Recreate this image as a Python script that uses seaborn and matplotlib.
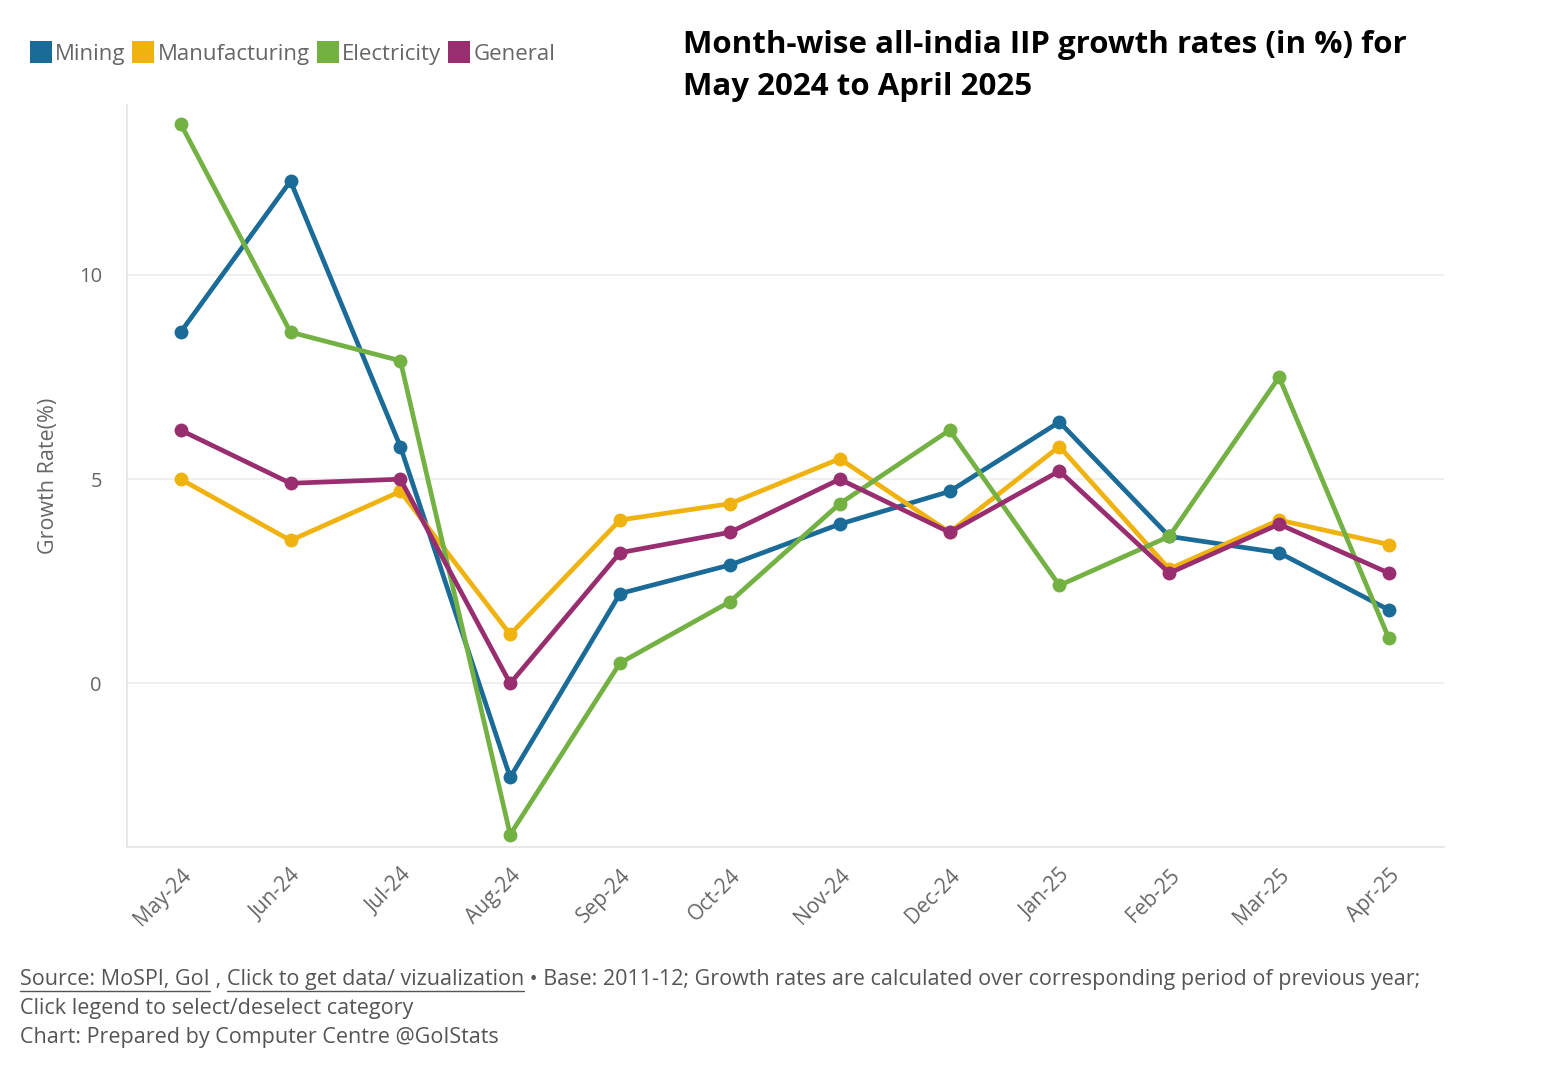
import pandas as pd
import seaborn as sns
import matplotlib.pyplot as plt
from matplotlib.lines import Line2D

months = ["May-24", "Jun-24", "Jul-24", "Aug-24", "Sep-24", "Oct-24",
          "Nov-24", "Dec-24", "Jan-25", "Feb-25", "Mar-25", "Apr-25"]
mining = [8.6, 12.3, 5.8, -2.3, 2.2, 2.9, 3.9, 4.7, 6.4, 3.6, 3.2, 1.8]
manufacturing = [5.0, 3.5, 4.7, 1.2, 4.0, 4.4, 5.5, 3.7, 5.8, 2.8, 4.0, 3.4]
electricity = [13.7, 8.6, 7.9, -3.7, 0.5, 2.0, 4.4, 6.2, 2.4, 3.6, 7.5, 1.1]
general = [6.2, 4.9, 5.0, 0.0, 3.2, 3.7, 5.0, 3.7, 5.2, 2.7, 3.9, 2.7]

series = ["Mining", "Manufacturing", "Electricity", "General"]
colors = {"Mining": "#1b6b98", "Manufacturing": "#f0b20f",
          "Electricity": "#74b143", "General": "#982e6f"}

df = pd.DataFrame({
    "month": months * 4,
    "rate": mining + manufacturing + electricity + general,
    "sector": sum([[s] * len(months) for s in series], []),
})
df["pos"] = list(range(len(months))) * 4

sns.set_theme(style="white")
plt.rcParams["font.family"] = ["Open Sans", "DejaVu Sans"]

fig = plt.figure(figsize=(15.66, 10.76), dpi=100)
ax = fig.add_axes([0.081, 0.213, 0.841, 0.689])

sns.lineplot(data=df, x="pos", y="rate", hue="sector", palette=colors,
             hue_order=series, marker="o", markersize=10, markeredgewidth=0,
             linewidth=3.4, legend=False, ax=ax)

ax.set_xlim(-0.49, 11.5)
ax.set_ylim(-4.0, 14.15)
ax.set_xticks(range(len(months)))
ax.set_xticklabels(months, rotation=45, ha="right", rotation_mode="anchor",
                   fontsize=15, color="#666666")
ax.set_yticks([0, 5, 10])
ax.set_yticklabels(["0", "5", "10"], fontsize=14.5, color="#666666")
ax.tick_params(axis="x", length=7, color="#e6e6e6", pad=6)
ax.tick_params(axis="y", length=0, pad=18)
ax.yaxis.grid(True, color="#eeeeee", linewidth=1.3)
ax.set_axisbelow(True)
for side in ["top", "right"]:
    ax.spines[side].set_visible(False)
for side in ["left", "bottom"]:
    ax.spines[side].set_color("#e6e6e6")
    ax.spines[side].set_linewidth(1.3)
ax.set_xlabel("")
ax.set_ylabel("Growth Rate(%)", fontsize=15.5, color="#666666", labelpad=14)

handles = [Line2D([0], [0], marker="s", linestyle="", markersize=16,
                  markerfacecolor=colors[s], markeredgewidth=0) for s in series]
leg = fig.legend(handles, series, loc="upper left", bbox_to_anchor=(0.006, 0.978),
                 ncol=4, frameon=False, fontsize=16, handletextpad=0.15,
                 columnspacing=0.3, handlelength=1.0)
for t in leg.get_texts():
    t.set_color("#666666")

fig.text(0.436, 0.972, "Month-wise all-india IIP growth rates (in %) for\nMay 2024 to April 2025",
         fontsize=22.5, fontweight="bold", color="black", ha="left", va="top",
         linespacing=1.5)

foot = "#555555"
fs = 15.5
y1 = 0.085
t1 = fig.text(0.013, y1, "Source: MoSPI, GoI", fontsize=fs, color=foot)
fig.canvas.draw()
r = fig.canvas.get_renderer()
inv = fig.transFigure.inverted()


def nxt(prev, s):
    bb = prev.get_window_extent(r)
    x = inv.transform((bb.x1, bb.y0))[0]
    return fig.text(x, y1, s, fontsize=fs, color=foot)


def underline(t):
    bb = t.get_window_extent(r)
    (x0, y0), (x1, _) = inv.transform((bb.x0, bb.y0)), inv.transform((bb.x1, bb.y0))
    fig.add_artist(Line2D([x0, x1], [y0 - 0.001, y0 - 0.001], color=foot,
                          linewidth=1.0, transform=fig.transFigure))


t2 = nxt(t1, " , ")
t3 = nxt(t2, "Click to get data/ vizualization")
t4 = nxt(t3, " \u2022 Base: 2011-12; Growth rates are calculated over corresponding period of previous year;")
underline(t1)
underline(t3)
fig.text(0.013, y1 - 0.027, "Click legend to select/deselect category", fontsize=fs, color=foot)
fig.text(0.013, y1 - 0.054, "Chart: Prepared by Computer Centre @GoIStats", fontsize=fs, color=foot)

fig.savefig("out.png", dpi=100, facecolor="white")
